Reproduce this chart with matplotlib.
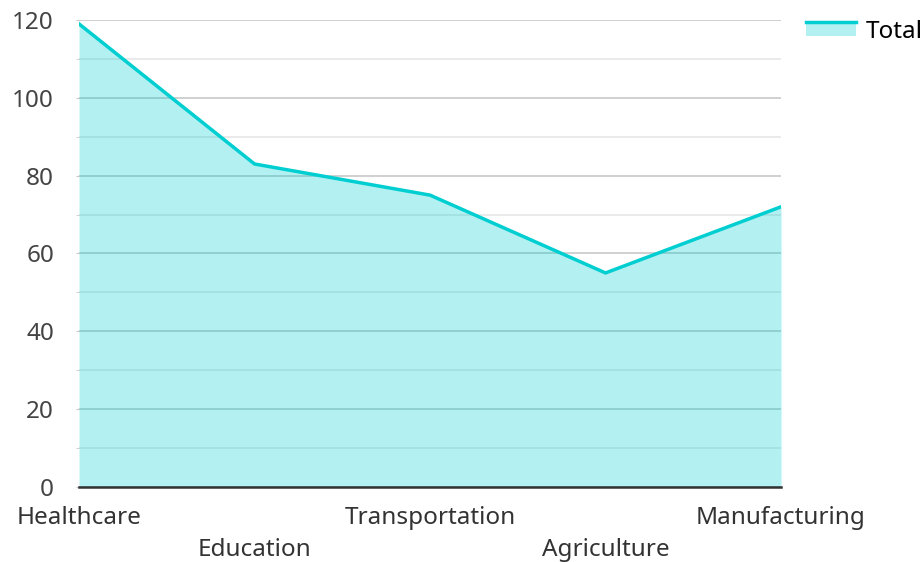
import matplotlib.pyplot as plt
from matplotlib.patches import Rectangle
from matplotlib.lines import Line2D

plt.rcParams['font.family'] = ['Noto Sans', 'DejaVu Sans']

categories = ['Healthcare', 'Education', 'Transportation', 'Agriculture', 'Manufacturing']
totals = [119, 83, 75, 55, 72]
y_ticks = [0, 20, 40, 60, 80, 100, 120]

line_color = '#00CED1'
fill_color = '#00CED1'


class LineOverPatch:
    # legend key: filled box with the line along its top edge
    def legend_artist(self, legend, orig_handle, fontsize, handlebox):
        x0, y0 = -handlebox.xdescent, -handlebox.ydescent
        w, h = handlebox.width, handlebox.height
        tr = handlebox.get_transform()
        rect = Rectangle((x0, y0), w, h, facecolor=fill_color, alpha=0.3,
                         edgecolor='none', transform=tr)
        line = Line2D([x0, x0 + w], [y0 + h, y0 + h], color=line_color,
                      linewidth=2.5, transform=tr)
        handlebox.add_artist(rect)
        handlebox.add_artist(line)
        return rect


fig = plt.figure(figsize=(9.22, 5.62), dpi=100)
ax = fig.add_axes([0.0857, 0.1335, 0.7614, 0.8309])

x = list(range(len(categories)))
ax.fill_between(x, totals, 0, color=fill_color, alpha=0.3, linewidth=0, zorder=3)
ln, = ax.plot(x, totals, color=line_color, linewidth=2.5, zorder=4, label='Total')

ax.set_xlim(0, len(categories) - 1)
ax.set_ylim(0, 120)
ax.set_yticks(y_ticks)
ax.set_yticks(range(10, 120, 20), minor=True)
ax.grid(axis='y', which='major', color='#c8c8c8', linewidth=1.2, zorder=1)
ax.grid(axis='y', which='minor', color='#e6e6e6', linewidth=1.2, zorder=1)
ax.grid(axis='x', visible=False)

for s in ['top', 'right', 'left']:
    ax.spines[s].set_visible(False)
ax.spines['bottom'].set_color('#333333')
ax.spines['bottom'].set_linewidth(1.8)
ax.spines['bottom'].set_zorder(5)

ax.tick_params(axis='y', which='both', length=2, color='#c8c8c8', labelsize=17.5,
               labelcolor='#444444', pad=16)
ax.tick_params(axis='x', length=0, labelsize=17.5, labelcolor='#333333')
ax.set_xticks(x)
ax.set_xticklabels(categories)
for i, tick in enumerate(ax.xaxis.get_major_ticks()):
    tick.set_pad(13.5 if i % 2 == 0 else 36.5)

ax.legend([ln], ['Total'], handler_map={Line2D: LineOverPatch()},
          loc='upper left', bbox_to_anchor=(1.035, 1.0), frameon=False, fontsize=17.5,
          handlelength=2.06, handleheight=0.5, handletextpad=0.42,
          borderaxespad=0, borderpad=0)

fig.savefig('out.png', dpi=100)
